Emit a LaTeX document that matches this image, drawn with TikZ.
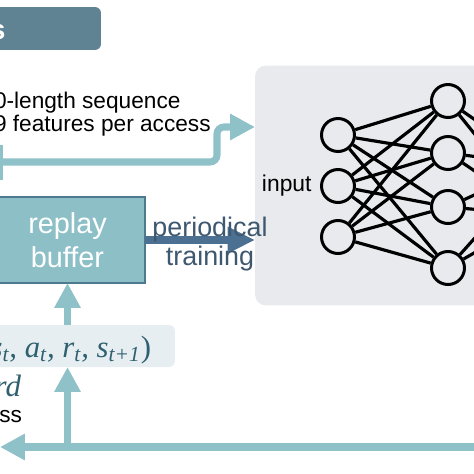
\documentclass[tikz,border=0pt]{standalone}
\usepackage{fontspec}
\setmainfont{Liberation Sans}
\newfontfamily\timesf{Liberation Serif}
\usetikzlibrary{arrows.meta, positioning}

\definecolor{slate}{RGB}{95,131,147}
\definecolor{flowteal}{RGB}{143,193,201}
\definecolor{bufferfill}{RGB}{141,191,199}
\definecolor{bufferedge}{RGB}{77,122,141}
\definecolor{trainblue}{RGB}{76,112,146}
\definecolor{traintext}{RGB}{62,88,112}
\definecolor{panelgray}{RGB}{232,234,237}
\definecolor{tuplefill}{RGB}{230,238,241}
\definecolor{tupletext}{RGB}{47,96,112}

\begin{document}
\begin{tikzpicture}[x=0.02cm, y=-0.02cm,
    neuron/.style={circle, draw=black, line width=1.7pt, fill=panelgray, minimum size=0.66cm, inner sep=0pt},
    link/.style={line width=1.8pt, black},
    flow/.style={draw=flowteal, line width=4pt, -{Triangle[length=0.5cm, width=0.5cm]}},
    train/.style={draw=trainblue, line width=4pt, -{Triangle[length=0.55cm, width=0.5cm]}},
    plain/.style={inner sep=0pt, outer sep=0pt}]
  \useasboundingbox (0,0) rectangle (474,474);
  \clip (0,0) rectangle (474,474);

  % header tab, cut at the left
  \node[plain, fill=slate, rounded corners=0.12cm, minimum width=2.42cm, minimum height=0.86cm] (header) at (40.5,28.5) {};
  \node[plain, anchor=base east, text=white, font=\fontsize{16pt}{16pt}\selectfont\bfseries] (headerlbl) at (5.5,39) {s};

  % state description
  \node[plain, anchor=base west, align=left, font=\fontsize{12.9pt}{12.6pt}\selectfont] (seqlbl) at (-6,131)
    {0-length sequence\\9 features per access};

  % network panel
  \node[plain, fill=panelgray, rounded corners=0.22cm, minimum width=4.9cm, minimum height=4.8cm] (panel) at (377.5,185.5) {};
  \node[neuron] (i1) at (338,135) {};
  \node[neuron] (i2) at (338,186) {};
  \node[neuron] (i3) at (338,237) {};
  \node[neuron] (h1) at (448,101) {};
  \node[neuron] (h2) at (448,153) {};
  \node[neuron] (h3) at (448,207) {};
  \node[neuron] (h4) at (448,268) {};
  \coordinate (o1) at (540,165);
  \coordinate (o2) at (540,215);
  \node[plain, left=0.17cm of i2, font=\fontsize{13pt}{13pt}\selectfont] (inputlbl) {input};
  \path[link]
    (i1) edge (h1) edge (h2) edge (h3) edge (h4)
    (i2) edge (h1) edge (h2) edge (h3) edge (h4)
    (i3) edge (h1) edge (h2) edge (h3) edge (h4);
  \path[link]
    (h1) edge (o1) edge (o2)
    (h2) edge (o1) edge (o2)
    (h3) edge (o1) edge (o2)
    (h4) edge (o1) edge (o2);

  % state into the network
  \fill[flowteal] (-4,145) rectangle (3,180);
  \coordinate (seqstart) at (-5,162);
  \coordinate (seqturn) at (217,162);
  \coordinate (nninlet) at (255,127);
  \draw[flow, rounded corners=4pt] (seqstart) -- (seqturn) |- (nninlet);

  % replay buffer
  \node[plain, fill=bufferfill, draw=bufferedge, line width=1.5pt, minimum width=3.1cm, minimum height=1.72cm,
        align=center, text=white, font=\fontsize{16.4pt}{19.3pt}\selectfont] (buffer) at (67.5,240) {replay\\buffer};
  \draw[train] (buffer.east) -- (panel.west |- buffer.east);
  \node[plain, align=center, text=traintext, font=\fontsize{15.3pt}{16.5pt}\selectfont] (trainlbl) at (210,244)
    {periodical\\training};

  % transition tuple
  \node[plain, fill=tuplefill, rounded corners=0.12cm, minimum width=3.7cm, minimum height=0.84cm] (tuple) at (82.5,346) {};
  \node[plain, anchor=base east, text=tupletext, font=\timesf\fontsize{17.5pt}{17.5pt}\selectfont] (tuplelbl) at (151,357)
    {\itshape s\textsubscript{t}, a\textsubscript{t}, r\textsubscript{t}, s\textsubscript{t+1}\upshape)};
  \draw[flow] (tuple.north -| buffer.south) -- (buffer.south);

  % reward and next access
  \node[plain, anchor=base east, text=tupletext, font=\timesf\itshape\fontsize{17.6pt}{17.6pt}\selectfont] (rewardlbl) at (21,396) {rd};
  \node[plain, anchor=base east, font=\fontsize{12.9pt}{12.9pt}\selectfont] (accesslbl) at (22,422) {ss};

  % feedback loop
  \coordinate (loopright) at (490,447);
  \coordinate (loopleft) at (0,447);
  \coordinate (loopjoin) at (67.5,447);
  \draw[flow, line width=4.4pt] (loopright) -- (loopleft);
  \draw[flow] (loopjoin) -- (tuple.south -| buffer.south);
\end{tikzpicture}
\end{document}
